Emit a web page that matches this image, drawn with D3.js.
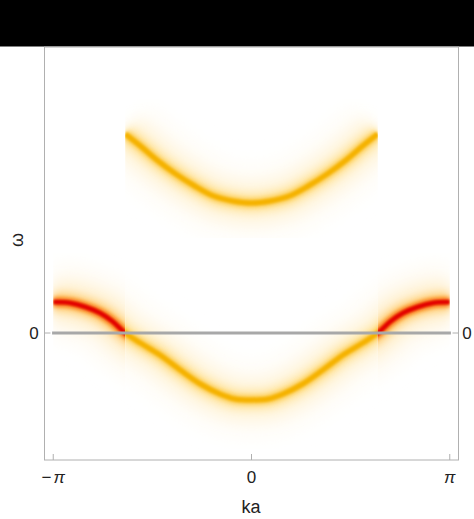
<!DOCTYPE html>
<html>
<head>
<meta charset="utf-8">
<script src="https://cdn.jsdelivr.net/npm/d3@7/dist/d3.min.js"></script>
<style>
  body { margin: 0; background: #fff; }
  svg text { font-family: "Liberation Sans", Arial, sans-serif; fill: #222; }
</style>
</head>
<body>
<svg id="chart" width="474" height="519"></svg>
<script>
// band readings (ka, omega)
var kLower = [-3.14, -2.87, -2.63, -2.40, -2.21, -2.00, -1.76, -1.45, -1.13, -0.81, -0.50, -0.26, 0,
              0.26, 0.50, 0.81, 1.13, 1.45, 1.76, 2.00, 2.21, 2.40, 2.63, 2.87, 3.14];
var wLower = [0.62, 0.60, 0.52, 0.40, 0.24, 0.00, -0.20, -0.44, -0.74, -1.02, -1.22, -1.32, -1.34,
              -1.32, -1.22, -1.02, -0.74, -0.44, -0.20, 0.00, 0.24, 0.40, 0.52, 0.60, 0.62];
var kUpper = [-2.00, -1.76, -1.50, -1.20, -0.90, -0.60, -0.30, 0,
              0.30, 0.60, 0.90, 1.20, 1.50, 1.76, 2.00];
var wUpper = [3.98, 3.74, 3.46, 3.18, 2.94, 2.74, 2.64, 2.60,
              2.64, 2.74, 2.94, 3.18, 3.46, 3.74, 3.98];
// pieces of the bands
var pieces = [
  {band: "lower", from: -Math.PI, to: -2.0, kind: "red"},
  {band: "lower", from: -2.0, to: 2.0, kind: "orange"},
  {band: "lower", from: 2.0, to: Math.PI, kind: "red"},
  {band: "upper", from: -2.0, to: 2.0, kind: "orange"}
];
var xTickVals = [-Math.PI, 0, Math.PI];
// [plain part, italic part]
var xTickText = [["\u2212", "\u03c0"], ["0", ""], ["", "\u03c0"]];

var svg = d3.select("#chart");
var frame = {left: 44.5, right: 458.5, top: 47, bottom: 460};

var x = d3.scaleLinear().domain([-3.28, 3.28]).range([frame.left, frame.right]);
var y = d3.scaleLinear().domain([-2.54, 5.72]).range([frame.bottom, frame.top]);

// black strip at the top
svg.append("rect").attr("x", 0).attr("y", 0).attr("width", 474).attr("height", 46.5).attr("fill", "#000");

var layers = {
  orange: [
    {w: 72, c: "#fffcf5", blur: 10},
    {w: 40, c: "#fff4da", blur: 7},
    {w: 18, c: "#ffe39a", blur: 4},
    {w: 9,  c: "#fccc50", blur: 2},
    {w: 5,  c: "#f5b200", blur: 1}
  ],
  red: [
    {w: 72, c: "#fffaf0", blur: 10},
    {w: 40, c: "#fff0d0", blur: 7},
    {w: 18, c: "#ffcd70", blur: 4},
    {w: 9,  c: "#f87010", blur: 2},
    {w: 4.5, c: "#e20000", blur: 1}
  ]
};

var defs = svg.append("defs");
var blurs = [1, 2, 4, 7, 10];
blurs.forEach(function(b) {
  defs.append("filter")
      .attr("id", "blur" + b)
      .attr("x", "-50%").attr("y", "-50%").attr("width", "200%").attr("height", "200%")
      .append("feGaussianBlur").attr("stdDeviation", b);
});

var line = d3.line()
    .curve(d3.curveCatmullRom)
    .x(function(d) { return x(d[0]); })
    .y(function(d) { return y(d[1]); });

var bands = {
  lower: d3.zip(kLower, wLower),
  upper: d3.zip(kUpper, wUpper)
};

pieces.forEach(function(p, i) {
  var id = "clip" + i;
  defs.append("clipPath").attr("id", id)
      .append("rect")
      .attr("x", x(p.from)).attr("width", x(p.to) - x(p.from))
      .attr("y", frame.top).attr("height", frame.bottom - frame.top);
  var g = svg.append("g").attr("clip-path", "url(#" + id + ")");
  layers[p.kind].forEach(function(l) {
    g.append("path")
        .datum(bands[p.band])
        .attr("d", line)
        .attr("fill", "none")
        .attr("stroke", l.c)
        .attr("stroke-width", l.w)
        .attr("filter", "url(#blur" + l.blur + ")");
  });
});

// zero line
svg.append("line")
    .attr("x1", x(-3.16)).attr("x2", x(3.16))
    .attr("y1", y(0)).attr("y2", y(0))
    .attr("stroke", "#a8a8a8").attr("stroke-width", 3);

// frame
svg.append("rect")
    .attr("x", frame.left).attr("y", frame.top)
    .attr("width", frame.right - frame.left).attr("height", frame.bottom - frame.top)
    .attr("fill", "none").attr("stroke", "#b0b0b0").attr("stroke-width", 1);

// bottom ticks, pointing inward
svg.selectAll(".xt").data(xTickVals).enter().append("line")
    .attr("x1", function(d) { return x(d); }).attr("x2", function(d) { return x(d); })
    .attr("y1", frame.bottom).attr("y2", frame.bottom - 6)
    .attr("stroke", "#b0b0b0");
var xl = svg.selectAll(".xl").data(xTickVals).enter().append("text")
    .attr("x", function(d) { return x(d); })
    .attr("y", 483)
    .attr("text-anchor", "middle")
    .attr("font-size", 17);
xl.append("tspan").text(function(d, i) { return xTickText[i][0]; });
xl.append("tspan").attr("font-style", "italic")
    .attr("dx", function(d, i) { return xTickText[i][0] && xTickText[i][1] ? 2 : 0; })
    .text(function(d, i) { return xTickText[i][1]; });

// side ticks at omega = 0
svg.append("line").attr("x1", frame.left).attr("x2", frame.left + 6)
    .attr("y1", y(0)).attr("y2", y(0)).attr("stroke", "#b0b0b0");
svg.append("line").attr("x1", frame.right - 6).attr("x2", frame.right)
    .attr("y1", y(0)).attr("y2", y(0)).attr("stroke", "#b0b0b0");
svg.append("text").attr("x", 34).attr("y", y(0) + 6)
    .attr("text-anchor", "middle").attr("font-size", 17).text("0");
svg.append("text").attr("x", 467).attr("y", y(0) + 6)
    .attr("text-anchor", "middle").attr("font-size", 17).text("0");

// axis labels
svg.append("text").attr("x", 251).attr("y", 513)
    .attr("text-anchor", "middle").attr("font-size", 18).text("ka");
svg.append("text")
    .attr("transform", "translate(23,240) rotate(-90)")
    .attr("text-anchor", "middle").attr("font-size", 18).text("\u03c9");
</script>
</body>
</html>
